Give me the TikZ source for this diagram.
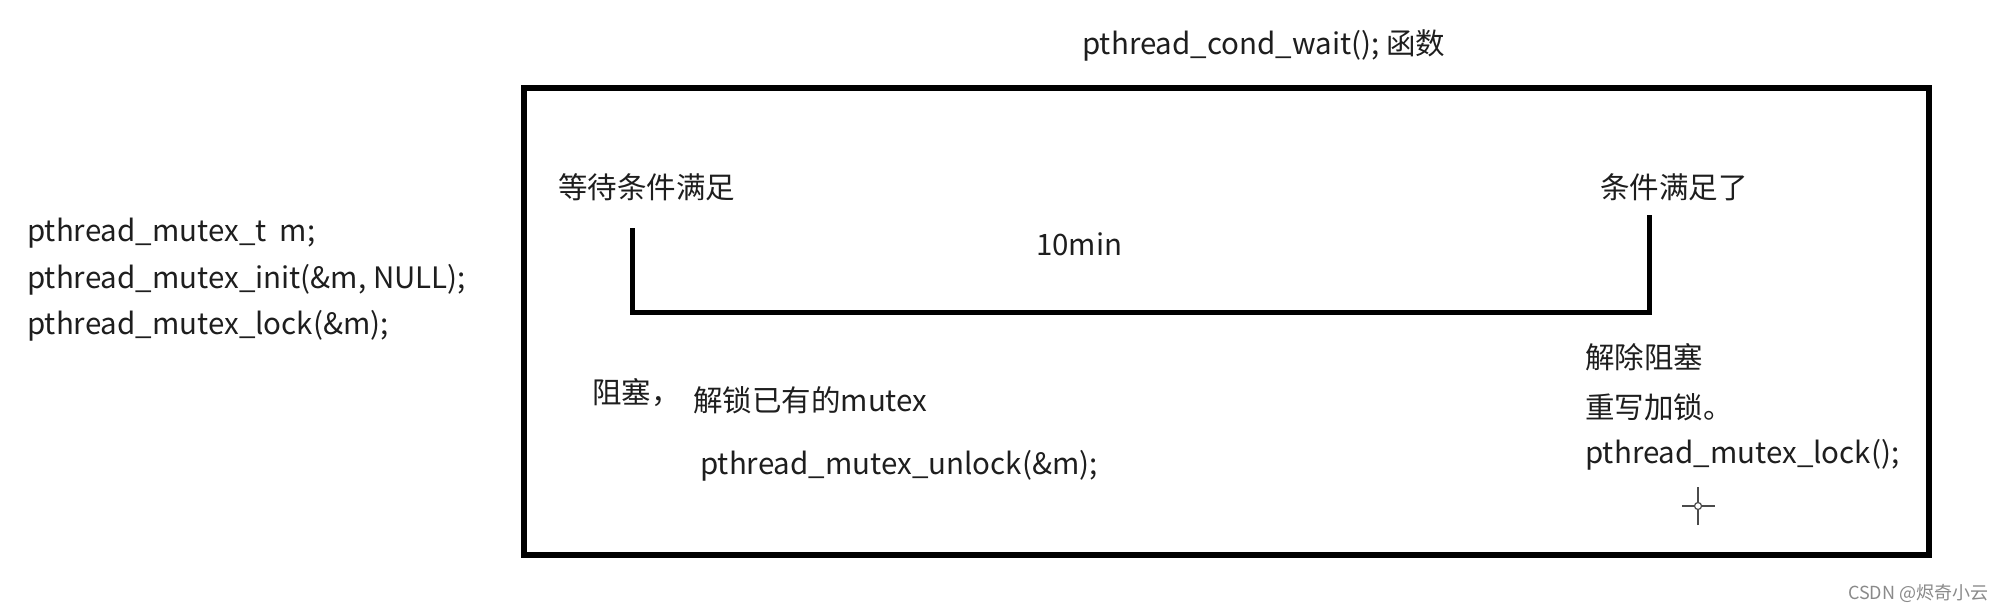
\documentclass[tikz,border=0pt]{standalone}
\usepackage{fontspec}
\setmainfont{Noto Sans CJK SC}
\newfontfamily\cjk{Noto Sans CJK SC}
\definecolor{ink}{HTML}{1E1E1E}
\definecolor{wm}{HTML}{8A8A8A}
\begin{document}
\begin{tikzpicture}[x=1pt,y=-1pt,
  lbl/.style={anchor=west,inner sep=0pt,text=ink,font=\fontsize{29.5}{35}\selectfont},
  frameline/.style={line width=6pt,draw=black},
  bracketline/.style={line width=5pt,draw=black},
  cursorline/.style={line width=2pt,draw=ink!80}]
\useasboundingbox (0,0) rectangle (2000,613);
\fill[white] (0,0) rectangle (2000,613);
% title
\node[lbl] (title) at (1082,45) {pthread\_cond\_wait(); 函数};
% left code
\node[lbl] (c1) at (27,233) {pthread\_mutex\_t\ \ m;};
\node[lbl] (c2) at (27,280) {pthread\_mutex\_init(\&m, NULL);};
\node[lbl] (c3) at (27,326) {pthread\_mutex\_lock(\&m);};
% frame
\coordinate (ftl) at (524,88);
\coordinate (fbr) at (1929,555);
\draw[frameline] (ftl) rectangle (fbr);
% labels inside
\node[lbl] (wait) at (558,187) {等待条件满足};
\node[lbl] (done) at (1600,187) {条件满足了};
\node[lbl] (ten) at (1036,244) {10min};
\node[lbl] (block) at (592,393) {阻塞，};
\node[lbl] (unl) at (693,400) {解锁已有的mutex};
\node[lbl] (unlc) at (700,466) {pthread\_mutex\_unlock(\&m);};
\node[lbl] (rel) at (1585,357) {解除阻塞};
\node[lbl] (relock) at (1585,407) {重写加锁。};
\node[lbl] (lockc) at (1585,455) {pthread\_mutex\_lock();};
% timeline bracket
\coordinate (bl) at (632,228);
\coordinate (blb) at (632,312);
\coordinate (brb) at (1649,312);
\coordinate (br) at (1649,215);
\draw[bracketline,line join=miter] (bl) -- (blb) -- (brb) -- (br);
% cursor mark
\coordinate (cur) at (1698,506);
\draw[cursorline] ([xshift=-16pt]cur) -- ([xshift=-4pt]cur);
\draw[cursorline] ([xshift=4pt]cur) -- ([xshift=17pt]cur);
\draw[cursorline] ([yshift=-19pt]cur) -- ([yshift=-4pt]cur);
\draw[cursorline] ([yshift=4pt]cur) -- ([yshift=19pt]cur);
\draw[line width=1.2pt,draw=ink!80] (cur) circle (3.5pt);
% watermark
\node[anchor=west,inner sep=0pt,text=wm,font=\fontsize{18}{22}\selectfont] (mark) at (1848,593) {CSDN @烬奇小云};
\end{tikzpicture}
\end{document}
